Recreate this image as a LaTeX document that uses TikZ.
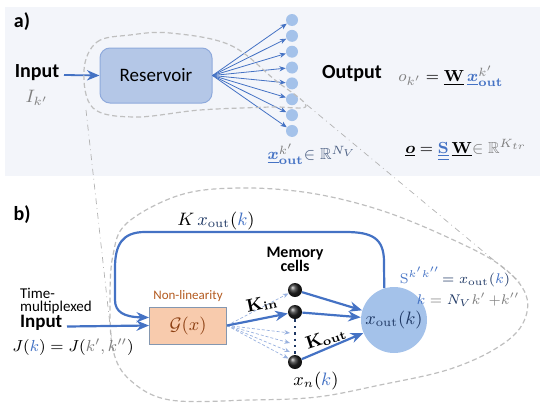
\documentclass[tikz,border=0pt]{standalone}
\usepackage{amsmath,amssymb,bm}
\usepackage[no-math]{fontspec}
\setmainfont{Carlito}
\usetikzlibrary{arrows.meta, positioning, calc}
\definecolor{panelBg}{HTML}{F3F5FA}
\definecolor{lineBlue}{HTML}{4472C4}
\definecolor{resFill}{HTML}{B4C7E7}
\definecolor{resDraw}{HTML}{8FAADC}
\definecolor{cellFill}{HTML}{A4C2EA}
\definecolor{gFill}{HTML}{F8CBAD}
\definecolor{gDraw}{HTML}{8497B0}
\definecolor{brownTxt}{HTML}{B35A1F}
\definecolor{gTxt}{HTML}{8C3F12}
\definecolor{navyTxt}{HTML}{1F3864}
\definecolor{grayTxt}{HTML}{7F7F7F}
\definecolor{dashGray}{HTML}{BFBFBF}
\tikzset{
  arrowB/.style={-{Stealth[length=2.2mm, width=1.8mm]}, lineBlue, line width=1.1pt},
  arrowFan/.style={-{Stealth[length=1.1mm, width=0.9mm]}, lineBlue, line width=0.4pt},
  arrowDash/.style={-{Stealth[length=1mm, width=0.8mm]}, lineBlue!55, dashed,
                    dash pattern=on 1.5pt off 1pt, line width=0.35pt},
  boxRes/.style={rectangle, rounded corners=5pt, draw=resDraw, fill=resFill,
                 line width=0.5pt, minimum width=56pt, minimum height=27.5pt,
                 font=\fontsize{9.5}{11}\selectfont},
  boxG/.style={rectangle, draw=gDraw, fill=gFill, line width=0.5pt,
               minimum width=38.5pt, minimum height=18.5pt, text=gTxt,
               font=\fontsize{9}{11}\selectfont},
  cellA/.style={circle, fill=cellFill, minimum size=6pt, inner sep=0pt},
  cellB/.style={circle, ball color=black!85, minimum size=7pt, inner sep=0pt},
  blobLine/.style={dashGray, dashed, dash pattern=on 2.5pt off 1.5pt, line width=0.6pt},
  linkLine/.style={dashGray!80!gray, dash dot, line width=0.35pt},
  panelLab/.style={font=\bfseries\fontsize{10}{12}\selectfont},
  bigLab/.style={font=\bfseries\fontsize{10}{12}\selectfont},
  smallLab/.style={font=\fontsize{7.5}{8.5}\selectfont, align=left},
  mathLab/.style={font=\fontsize{8}{10}\selectfont, inner sep=1pt},
}

\begin{document}
\begin{tikzpicture}[x=0.5pt, y=-0.5pt, font=\fontsize{9}{11}\selectfont]
  \useasboundingbox (0,0) rectangle (550,412);
  % panel a
  \fill[panelBg] (5,7) rectangle (540,176);
  \node[panelLab] (la) at (22,22) {a)};
  \node[bigLab] (inA) at (37,73) {Input};
  \node[mathLab, font=\fontsize{9}{10}\selectfont, text=grayTxt, below=0pt of inA] (ik) {$I_{k'}$};
  \node[boxRes] (res) at (156,75.5) {Reservoir};
  \foreach \i in {0,...,7}
    \node[cellA] (c\i) at (292,{20+15.85*\i}) {};
  \foreach \i in {0,...,7}
    \draw[arrowFan] (res.east) -- (c\i);
  \coordinate (inAs) at (64,75);
  \draw[arrowB, line width=0.9pt] (inAs) -- (res.west);
  \node[bigLab] (outA) at (352,74) {Output};
  \node[mathLab, anchor=west] (eqA) at (396,76)
    {${\color{grayTxt}o_{k'}} = \underline{\mathbf{W}}\,
      {\color{lineBlue}\underline{\bm{x}}_{\mathbf{out}}^{\textcolor{grayTxt}{k'}}}$};
  \node[mathLab] (xr) at (312,154)
    {${\color{lineBlue}\underline{\bm{x}}_{\mathbf{out}}^{\textcolor{grayTxt}{k'}}}
      {\color{navyTxt!80}\in\mathbb{R}^{N_V}}$};
  \node[mathLab] (or) at (466,150)
    {$\underline{\bm{o}} = {\color{lineBlue}\underline{\underline{\mathbf{S}}}}\,
      \underline{\mathbf{W}} {\color{grayTxt}\in\mathbb{R}^{K_{tr}}}$};
  % blob round the reservoir
  \draw[blobLine] plot[smooth cycle, tension=0.6] coordinates {(84,70) (97,42) (130,35)
    (170,33) (230,45) (275,80) (306,106) (270,107) (200,110) (135,117) (93,108)};

  % panel b
  \node[panelLab] (lb) at (22,215) {b)};
  \draw[blobLine] plot[smooth cycle, tension=0.6] coordinates {(127,223) (180,195)
    (240,188) (310,193) (380,210) (447,237) (500,265) (526,295) (522,325) (495,349)
    (447,370) (380,385) (317,397) (250,400) (170,400) (130,380) (113,350) (110,300)
    (113,255)};
  \draw[linkLine] (86,110) -- (113,352);
  \draw[linkLine] (307,105) -- (520,282);
  \node[smallLab, anchor=west] (tm) at (13,301) {Time-\\[-2pt]multiplexed};
  \node[bigLab, font=\bfseries\fontsize{9.5}{11}\selectfont, anchor=west] (inB) at (13,323) {Input};
  \node[mathLab, font=\fontsize{8.5}{10}\selectfont, anchor=west] (jk) at (10,347)
    {$J({\color{lineBlue}k}) = J({\color{grayTxt}k',k''})$};
  \node[boxG] (g) at (188,325.5) {$\mathcal{G}(x)$};
  \node[text=brownTxt, font=\fontsize{6.5}{8}\selectfont, above=-1pt of g] (nl) {Non-linearity};
  \node[cellB] (n1) at (295,290) {};
  \node[cellB] (n2) at (295,312) {};
  \node[cellB] (n3) at (295,362) {};
  \node[font=\bfseries\fontsize{8}{9}\selectfont, align=center, above=2pt of n1] (mc)
    {Memory\\[-2pt]cells};
  \node[font=\fontsize{9}{10}\selectfont, below right=-1pt and -7pt of n3] (xn)
    {$x_n({\color{lineBlue}k})$};
  \node[circle, fill=cellFill, minimum size=33pt, inner sep=0pt,
        font=\fontsize{9}{10}\selectfont, text=navyTxt] (xo) at (394,320)
    {$x_{\mathrm{out}}(k)$};
  \draw[navyTxt, dotted, line width=1.2pt] (n2) -- (n3);
  % connectors
  \coordinate (inBs) at (67,326.5);
  \draw[arrowB] (inBs) -- (g.west);
  \draw[arrowB] (xo.107) -- (384,262) .. controls (384,238) and (372,232) .. (345,232)
    -- (145,232) .. controls (122,232) and (115,245) .. (115,268) -- (115,300)
    .. controls (115,312) and (124,317) .. ($(g.west)+(0,-8)$);
  \node[font=\fontsize{9}{10}\selectfont] (kx) at (216,221)
    {$K\,{\color{navyTxt}x_{\mathrm{out}}}({\color{lineBlue}k})$};
  \coordinate (d1) at (290,333);
  \coordinate (d2) at (290,343);
  \coordinate (d3) at (290,352);
  \foreach \t in {n1,d1,d2,d3,n3}
    \draw[arrowDash] (g.east) -- (\t);
  \draw[arrowB] (g.east) -- (n2);
  \foreach \t in {n1,n2,n3}
    \draw[arrowB] (\t) -- (xo);
  \node[rotate=12, font=\fontsize{9}{10}\selectfont] (kin) at (262,304) {$\mathbf{K_{in}}$};
  \node[rotate=18, font=\fontsize{9}{10}\selectfont] (kout) at (326,338) {$\mathbf{K_{out}}$};
  \node[mathLab, font=\fontsize{7.5}{9}\selectfont, text=navyTxt] (sk) at (455,277)
    {${\color{lineBlue}\mathrm{S}^{k'k''}}\!= x_{\mathrm{out}}({\color{lineBlue}k})$};
  \node[mathLab, font=\fontsize{7.5}{9}\selectfont, text=grayTxt] (kk) at (468,300)
    {${\color{lineBlue}k} = {\color{navyTxt}N_V}k' \,{+}k''$};
\end{tikzpicture}
\end{document}
